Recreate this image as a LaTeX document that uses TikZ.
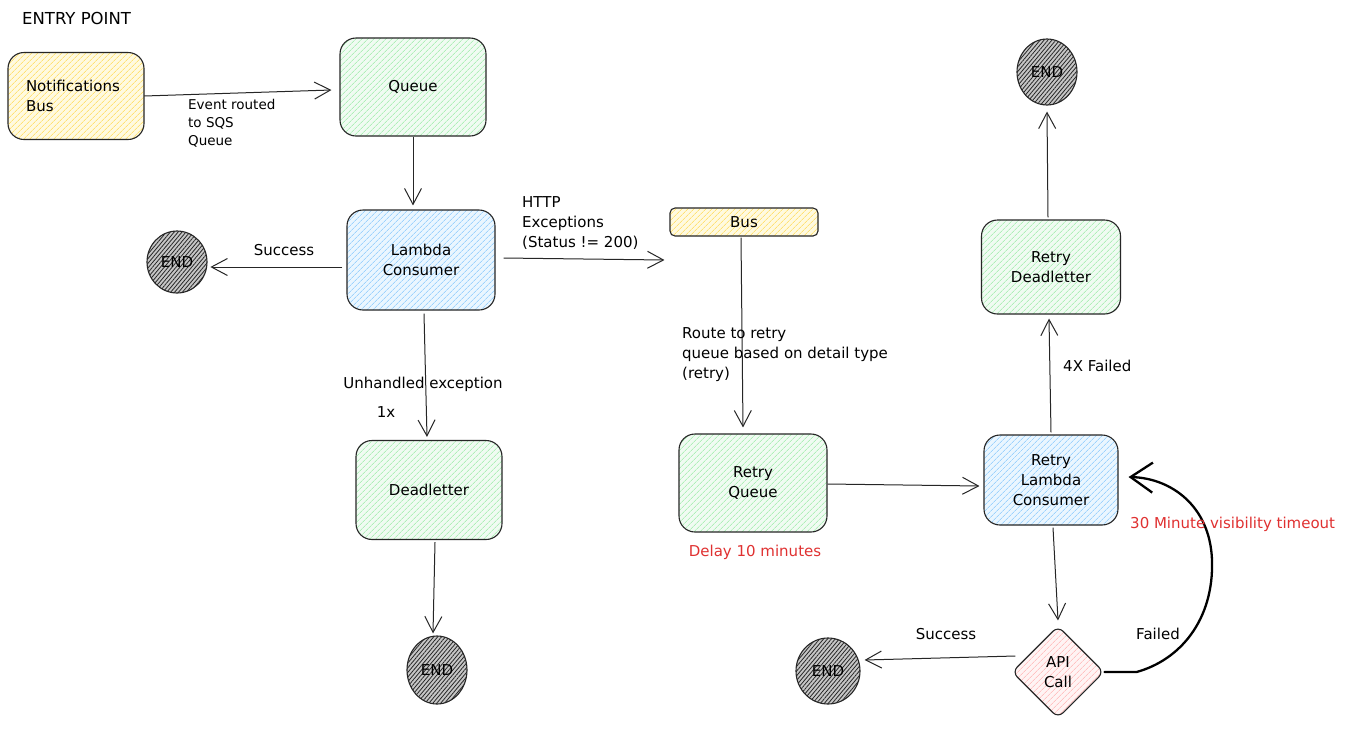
\documentclass[tikz,border=0pt]{standalone}
\usepackage{fontspec}
\setmainfont{DejaVu Sans}
\usetikzlibrary{arrows.meta,shapes.geometric,patterns.meta,calc}
\definecolor{gline}{HTML}{8CE99A}\definecolor{gfill}{HTML}{F0FBF2}
\definecolor{bline}{HTML}{74C0FC}\definecolor{bfill}{HTML}{EAF6FF}
\definecolor{yline}{HTML}{FFD43B}\definecolor{yfill}{HTML}{FFFAE0}
\definecolor{pline}{HTML}{FFA8A8}\definecolor{pfill}{HTML}{FFF4F4}
\definecolor{redtxt}{HTML}{E03131}
\begin{document}
\begin{tikzpicture}[x=1pt,y=-1pt,
  txt/.style={font=\fontsize{15}{20}\selectfont, inner sep=0pt},
  smalltxt/.style={font=\fontsize{13.5}{18}\selectfont, inner sep=0pt},
  box/.style={draw=black!85, line width=1.1pt, rounded corners=16pt, inner sep=0pt, align=center, txt},
  gbox/.style={box, preaction={fill=gfill}, pattern={Lines[angle=45,distance=4pt,line width=0.5pt]}, pattern color=gline},
  bbox/.style={box, preaction={fill=bfill}, pattern={Lines[angle=45,distance=4pt,line width=0.5pt]}, pattern color=bline},
  ybox/.style={box, preaction={fill=yfill}, pattern={Lines[angle=45,distance=4pt,line width=0.5pt]}, pattern color=yline},
  endnode/.style={ellipse, draw=black!85, line width=1.1pt, inner sep=0pt, minimum width=60pt, minimum height=64pt,
    preaction={fill=gray!45}, pattern={Lines[angle=50,distance=3pt,line width=0.8pt]}, pattern color=black!85,
    font=\fontsize{15}{17}\selectfont},
  conn/.style={draw=black!85, line width=1pt, -{Straight Barb[length=16pt,width=17pt,line width=1pt]}},
  redlabel/.style={txt, text=redtxt}
]
\useasboundingbox[fill=white] (0,0) rectangle (1358,729);

% title
\node[font=\fontsize{16.5}{20}\selectfont, inner sep=0pt, anchor=west] (title) at (22,18) {ENTRY POINT};

% nodes
\node[ybox, minimum width=136pt, minimum height=87pt, text width=100pt, align=left] (nb) at (76,96) {Notifications\\Bus};
\node[gbox, minimum width=146pt, minimum height=98pt] (q) at (413,87) {Queue};
\node[bbox, minimum width=148pt, minimum height=100pt] (lam) at (421,260) {Lambda\\Consumer};
\node[endnode, minimum height=62pt] (endL) at (177,262) {END};
\node[gbox, minimum width=146pt, minimum height=99pt] (dl) at (429,490) {Deadletter};
\node[endnode, minimum height=68pt] (endB) at (437,670) {END};
\node[ybox, rounded corners=5pt, minimum width=148pt, minimum height=28pt] (bus) at (744,222) {Bus};
\node[gbox, minimum width=148pt, minimum height=98pt] (rq) at (753,483) {Retry\\Queue};
\node[bbox, minimum width=134pt, minimum height=90pt] (rl) at (1051,480) {Retry\\Lambda\\Consumer};
\node[gbox, minimum width=139pt, minimum height=94pt] (rdl) at (1051,267) {Retry\\Deadletter};
\node[endnode, minimum height=66pt] (endT) at (1047,72) {END};
\node[diamond, draw=black!85, line width=1.1pt, rounded corners=7pt, minimum width=92pt, minimum height=92pt, inner sep=0pt,
  preaction={fill=pfill}, pattern={Lines[angle=45,distance=4pt,line width=0.5pt]}, pattern color=pline,
  align=center, txt] (api) at (1058,672) {API\\Call};
\node[endnode, minimum width=64pt, minimum height=66pt] (endR) at (828,671) {END};

% connectors
\draw[conn] (nb.east) -- ($(q.west)+(-8,3)$);
\draw[conn] (q.south) -- ($(q.south |- lam.north)+(0,-4)$);
\draw[conn] ($(lam.west)+(-4,7)$) -- ($(endL.east)+(3,5)$);
\draw[conn] ($(lam.east)+(8,-2)$) -- ($(bus.west)+(-5,38)$);
\draw[conn] ($(lam.south)+(3,3)$) -- ($(dl.north)+(-2,-3)$);
\draw[conn] ($(dl.south)+(6,2)$) -- ($(endB.north)+(-4,-2)$);
\draw[conn] ($(bus.south)+(-3,1)$) -- ($(rq.north)+(-10,-6)$);
\draw[conn] ($(rq.east)+(0,1)$) -- ($(rl.west)+(-4,6)$);
\draw[conn] ($(rl.north)+(0,-2)$) -- ($(rdl.south)+(-2,4)$);
\draw[conn] ($(rdl.north)+(-3,-2)$) -- ($(endT.south)+(0,6)$);
\draw[conn] ($(rl.south)+(2,2)$) -- ($(api.north)+(0,-5)$);
\draw[conn] ($(api.west)+(4,-16)$) -- ($(endR.east)+(4,-11)$);
\draw[draw=black, line width=2.3pt, line cap=round,
  -{Straight Barb[length=22pt,width=30pt,line width=2.3pt]}]
  (api.east) -- ++(32,0) .. controls (1180,660) and (1214,620) .. (1212,560)
  .. controls (1210,505) and (1170,478) .. ($(rl.east)+(10,-3)$);

% labels
\node[smalltxt, anchor=north west, align=left] (l1) at (188,99) {Event routed\\to SQS\\Queue};
\node[txt] (l2) at (284,250) {Success};
\node[txt, anchor=north west, align=left] (l3) at (522,196) {HTTP\\Exceptions\\(Status != 200)};
\node[txt] (l4) at (423,384) {Unhandled exception};
\node[txt] (l5) at (386,412) {1x};
\node[txt, anchor=north west, align=left] (l6) at (682,327) {Route to retry\\queue based on detail type\\(retry)};
\node[redlabel] (l7) at (755,552) {Delay 10 minutes};
\node[txt, anchor=west] (l8) at (1063,366) {4X Failed};
\node[txt] (l9) at (946,634) {Success};
\node[txt] (l10) at (1158,634) {Failed};
\node[redlabel, anchor=west] (l11) at (1130,524) {30 Minute visibility timeout};
\end{tikzpicture}
\end{document}
